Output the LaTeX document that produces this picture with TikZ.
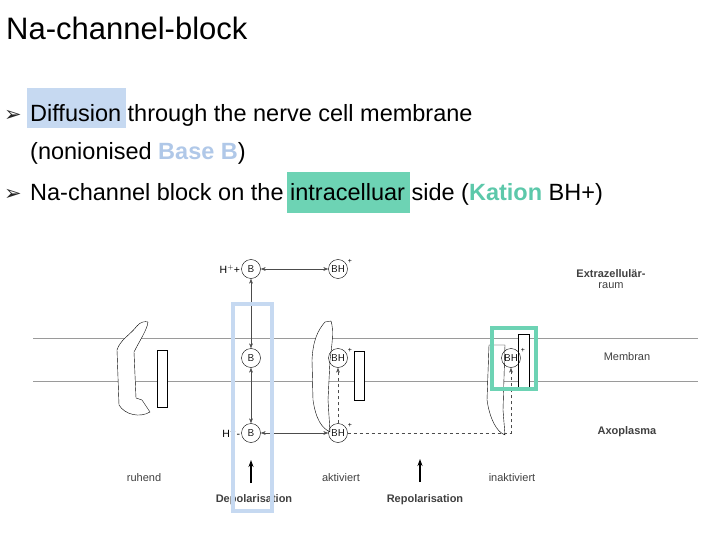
\documentclass[tikz,border=0pt]{standalone}
\usepackage{fontspec}
\setmainfont{Liberation Sans}
\newfontfamily\dv{DejaVu Sans}
\usetikzlibrary{arrows.meta}
\definecolor{hlblue}{HTML}{C6D9F1}
\definecolor{txblue}{HTML}{B0C8E8}
\definecolor{hlgreen}{HTML}{6DD3B4}
\definecolor{txgreen}{HTML}{5CC8AA}
\definecolor{gline}{HTML}{9A9A9A}
\begin{document}
\begin{tikzpicture}[x=1pt,y=-1pt,
  big/.style={anchor=base west,inner sep=0,font=\fontsize{23.5}{26}\selectfont},
  mol/.style={circle,draw,thin,inner sep=0.3pt,minimum size=19pt,font=\fontsize{10}{11}\selectfont\sffamily},
  pl/.style={font=\fontsize{7}{8}\selectfont,inner sep=0},
  lab/.style={font=\fontsize{11}{12}\selectfont,text=black!75},
  blab/.style={font=\fontsize{11}{12}\selectfont\bfseries,text=black!75},
  chan/.style={draw,thin,fill=white},
  arr/.style={{Stealth[length=5pt]}-{Stealth[length=5pt]},thin,black!70},
  darr/.style={-{Stealth[length=5pt]},thin,dashed,black!70}]
\useasboundingbox (0,0) rectangle (720,540);
\node[anchor=base west,inner sep=0,font=\fontsize{31}{34}\selectfont] (title) at (6,40) {Na-channel-block};
% highlights
\fill[hlblue] (27,88) rectangle (126,128);
\fill[hlgreen] (287,172) rectangle (410,213);
\node[anchor=base west,inner sep=0,font=\dv\fontsize{21}{22}\selectfont,text=black!85] (b1) at (4,122) {➢};
\node[big] (t1) at (30,122) {Diffusion through the nerve cell membrane};
\node[big] (t2) at (30,160) {(nonionised \textcolor{txblue}{\bfseries Base B})};
\node[anchor=base west,inner sep=0,font=\dv\fontsize{21}{22}\selectfont,text=black!85] (b2) at (4,201) {➢};
\node[big] (t3) at (30,201) {Na-channel block on the intracelluar side (\textcolor{txgreen}{\bfseries Kation} BH+)};
% membrane
\draw[gline] (33,338) -- (698,338);
\draw[gline] (33,381) -- (698,381);
% channels
\draw[chan] (137,326) .. controls (130,335) and (120,340) .. (117,350) -- (119,405) .. controls (125,415) and (140,418) .. (150,412) -- (142,400) -- (136,398) -- (134,352) .. controls (140,340) and (147,330) .. (148,322) .. controls (145,321) and (140,322) .. (137,326) -- cycle;
\draw[chan] (157,350) rectangle (167,407);
\draw[chan] (325,322) .. controls (318,330) and (313,340) .. (312,360) -- (313,400) .. controls (316,420) and (322,428) .. (330,432) -- (328,400) -- (330,360) .. controls (332,345) and (334,330) .. (331,321) -- cycle;
\draw[chan] (354,351) rectangle (364,400);
\draw[chan] (489,345) -- (487,400) .. controls (490,420) and (497,432) .. (505,435) -- (503,410) -- (505,345) -- cycle;
\draw[chan] (518,334) rectangle (529,387);
% molecules
\node[mol] (Bt) at (251,269) {B};
\node[mol] (BHt) at (338,269) {BH};
\node[pl] (pt) at (350,261) {+};
\node[mol] (Bm) at (251,358) {B};
\node[mol] (Bb) at (251,433) {B};
\node[mol] (BHb) at (338,433) {BH};
\node[pl] (pb) at (350,425) {+};
\node[mol] (BHa) at (338,358) {BH};
\node[pl] (pa) at (350,350) {+};
\node[mol] (BHi) at (511,358) {BH};
\node[pl] (pi) at (523,350) {+};
\node[font=\fontsize{10.5}{11}\selectfont,anchor=east,inner sep=1pt] (Ht) at (Bt.west) {H$^+$+};
\node[font=\fontsize{10.5}{11}\selectfont,anchor=east,inner sep=1pt] (Hb) at (Bb.west) {H$^+$-};
\draw[arr] (Bt) -- (BHt);
\draw[arr] (Bb) -- (BHb);
\draw[arr] (Bt) -- (Bm);
\draw[arr] (Bm) -- (Bb);
\draw[darr] (BHb) -- (BHa);
\coordinate (corner) at (511,433);
\draw[darr] (BHb.east) -- (corner) -- (BHi);
% labels
\node[blab,align=center] (ex) at (611,279) {Extrazellulär-\\[-1pt]\mdseries raum};
\node[lab] (mem) at (627,357) {Membran};
\node[blab] (axo) at (627,432) {Axoplasma};
\node[lab] (ru) at (144,478) {ruhend};
\node[lab] (ak) at (341,478) {aktiviert};
\node[lab] (in) at (512,478) {inaktiviert};
\node[blab] (de) at (254,500) {Depolarisation};
\node[blab] (re) at (425,500) {Repolarisation};
\coordinate (a1) at (251,483);
\coordinate (a1e) at (251,460);
\coordinate (a2) at (420,482);
\coordinate (a2e) at (420,459);
\draw[-{Stealth[length=7pt,width=5pt]},line width=1.3pt] (a1) -- (a1e);
\draw[-{Stealth[length=7pt,width=5pt]},line width=1.3pt] (a2) -- (a2e);
% highlight boxes
\draw[hlblue,line width=4pt] (233,304) rectangle (272,511);
\draw[hlgreen,line width=4pt] (492,328) rectangle (536,389);
\end{tikzpicture}
\end{document}
